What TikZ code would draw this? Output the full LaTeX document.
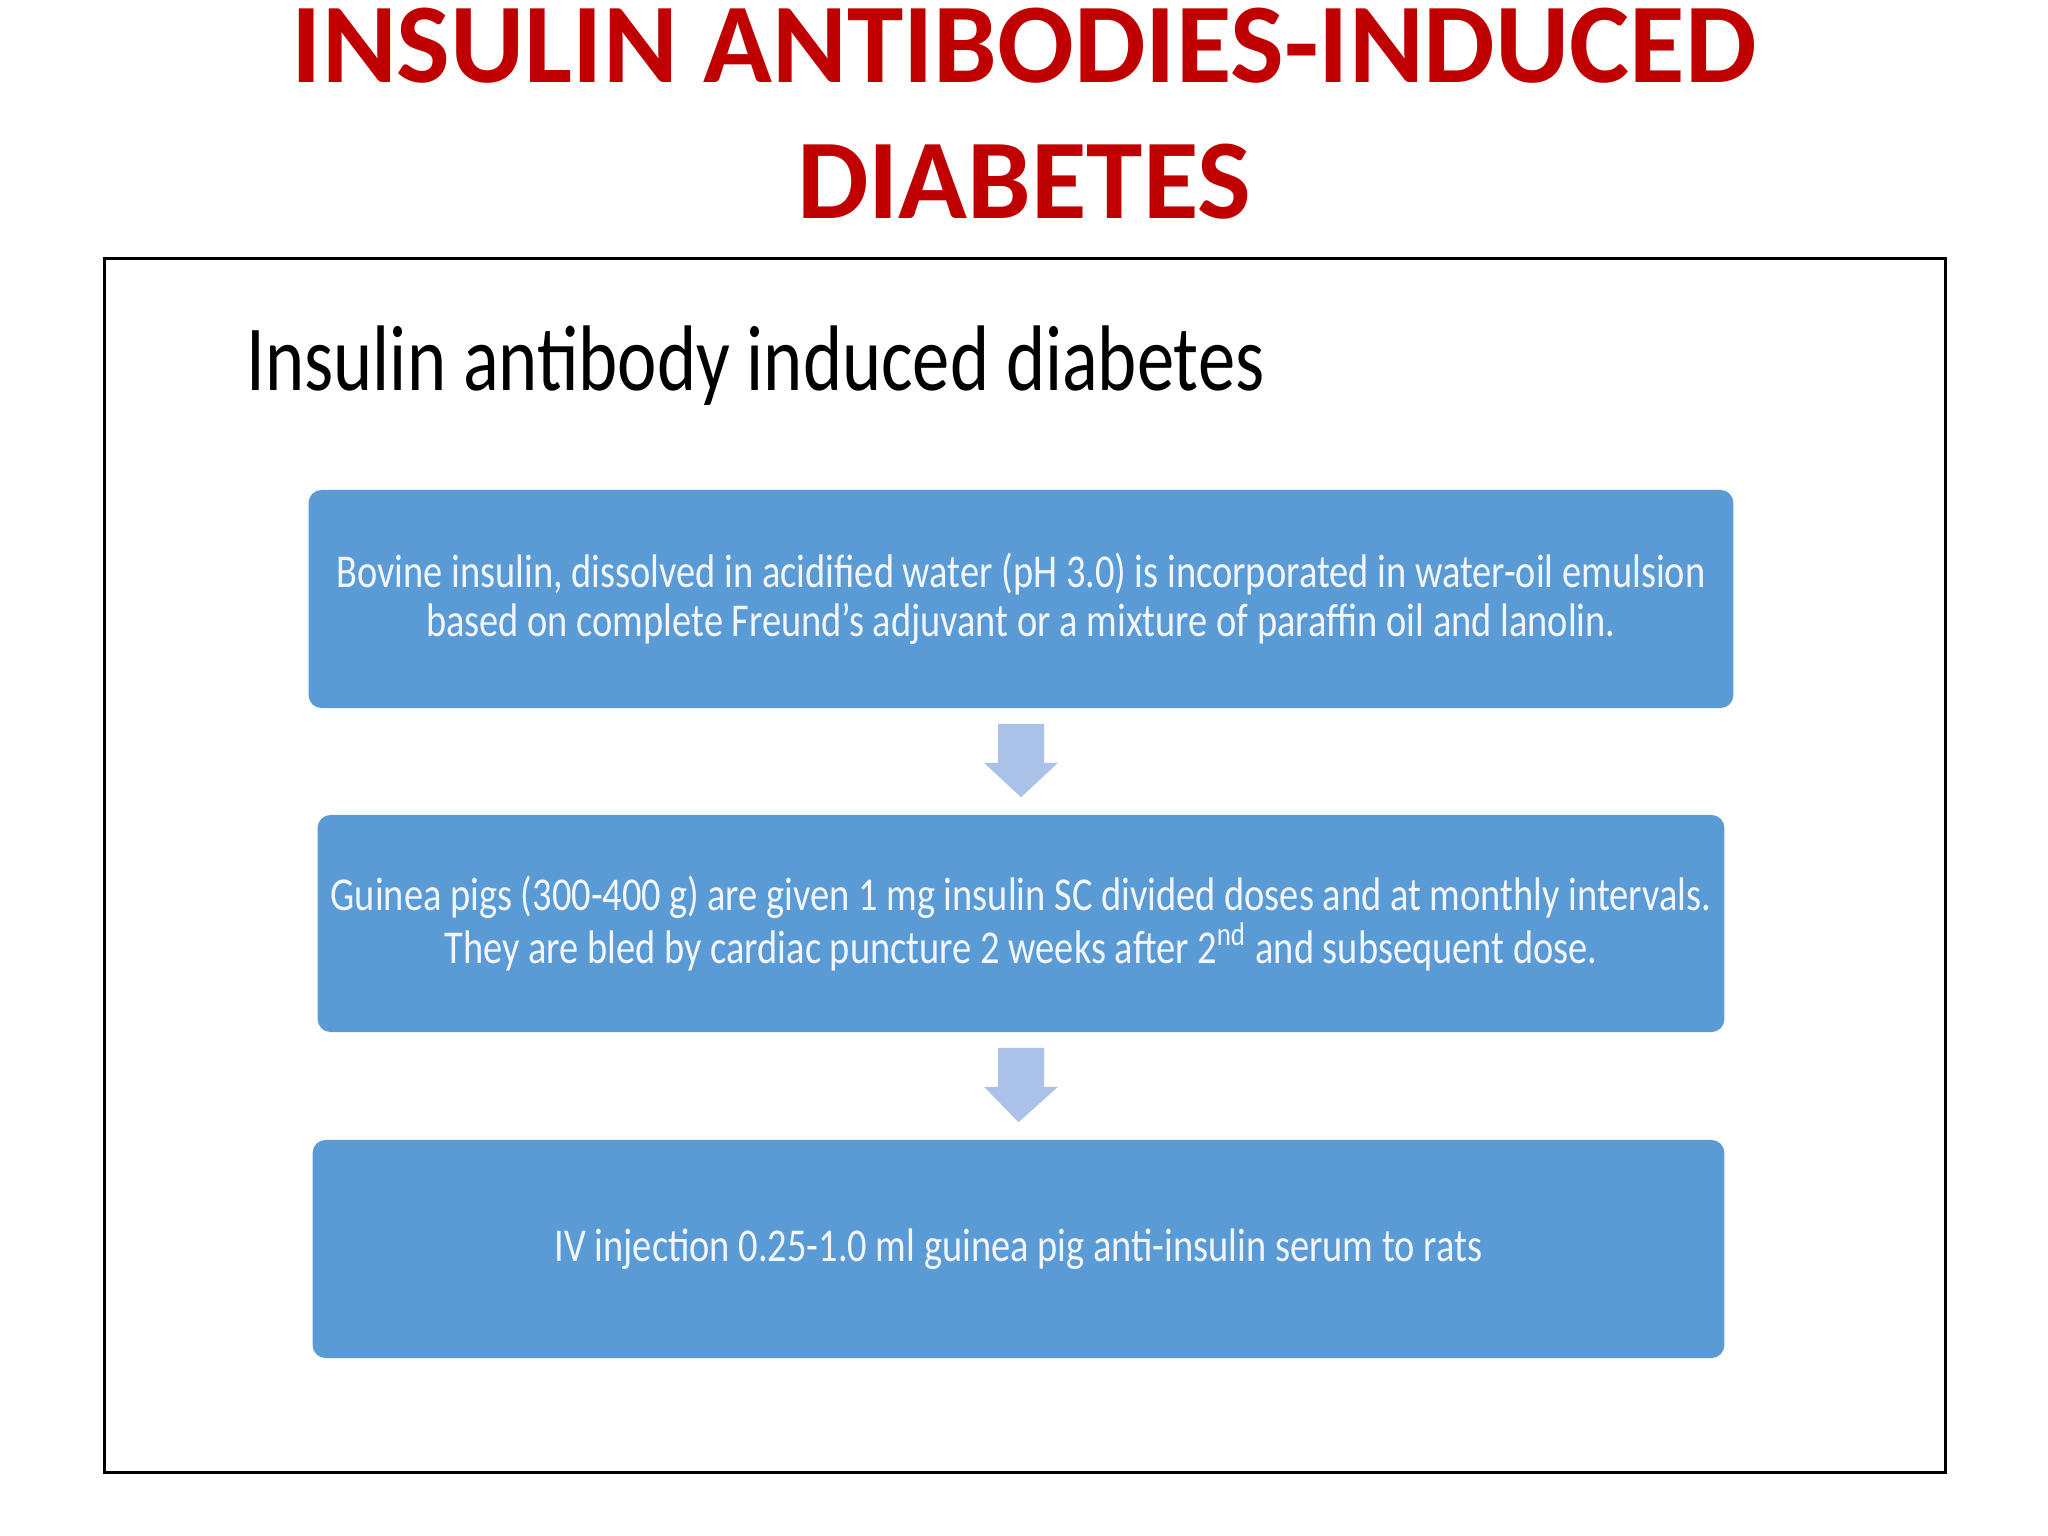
\documentclass[tikz,border=0pt]{standalone}
\usepackage{fontspec}
\setmainfont{Carlito}
\newfontfamily\condfont{Carlito}[FakeStretch=0.815]
\newfontfamily\subfont{Carlito}[FakeStretch=0.80]
\usetikzlibrary{calc}
\definecolor{titlered}{HTML}{C00000}
\definecolor{boxblue}{HTML}{5B9BD5}
\definecolor{arrowblue}{HTML}{AAC2E8}
\definecolor{boxtext}{HTML}{F2F6FC}
\tikzset{
  stepbox/.style={fill=boxblue, rounded corners=0.13cm, inner sep=0pt, align=center,
    text=boxtext, font=\condfont\fontsize{13.4}{14}\selectfont},
  blockarrow/.style={fill=arrowblue},
  bigtitle/.style={anchor=base, text=titlered, font=\fontsize{32.3}{38}\selectfont\bfseries},
}
\begin{document}
\begin{tikzpicture}[x=0.01cm,y=-0.01cm]
\useasboundingbox (0,0) rectangle (2048,1536);
\fill[white] (0,0) rectangle (2048,1536);
\node[bigtitle] (t1) at (1024,82) {INSULIN ANTIBODIES-INDUCED};
\node[bigtitle] (t2) at (1024,218) {DIABETES};
\node[draw=black, line width=0.8pt, minimum width=18.40cm, minimum height=12.13cm,
  anchor=north west, inner sep=0pt] (frame) at (103,257) {};
\node[anchor=base west, inner sep=0pt, text=black, font=\subfont\fontsize{26.5}{30}\selectfont] (sub) at (246,390) {Insulin antibody induced diabetes};
\node[stepbox, minimum width=14.24cm, minimum height=2.18cm] (b1) at (1021,599)
  {Bovine insulin, dissolved in acidified water (pH 3.0) is incorporated in water-oil emulsion\\
   based on complete Freund’s adjuvant or a mixture of paraffin oil and lanolin.};
\node[stepbox, minimum width=14.06cm, minimum height=2.17cm] (b2) at (1021,923.5)
  {Guinea pigs (300-400\,g) are given 1 mg insulin SC divided doses and at monthly intervals.\\
   They are bled by cardiac puncture 2 weeks after 2\textsuperscript{nd} and subsequent dose.};
\node[stepbox, minimum width=14.11cm, minimum height=2.18cm] (b3) at (1018.5,1249)
  {IV injection 0.25-1.0 ml guinea pig anti-insulin serum to rats};
\fill[blockarrow] ($(b1.south)+(-23,15)$) -- ($(b1.south)+(23,15)$) -- ($(b1.south)+(23,54)$)
  -- ($(b1.south)+(37,54)$) -- ($(b2.north)+(0,-17)$) -- ($(b1.south)+(-37,54)$)
  -- ($(b1.south)+(-23,54)$) -- cycle;
\fill[blockarrow] ($(b2.south)+(-23,15)$) -- ($(b2.south)+(23,15)$) -- ($(b2.south)+(23,54)$)
  -- ($(b2.south)+(37,54)$) -- ($(b3.north)+(0,-17)$) -- ($(b2.south)+(-37,54)$)
  -- ($(b2.south)+(-23,54)$) -- cycle;
\end{tikzpicture}
\end{document}
